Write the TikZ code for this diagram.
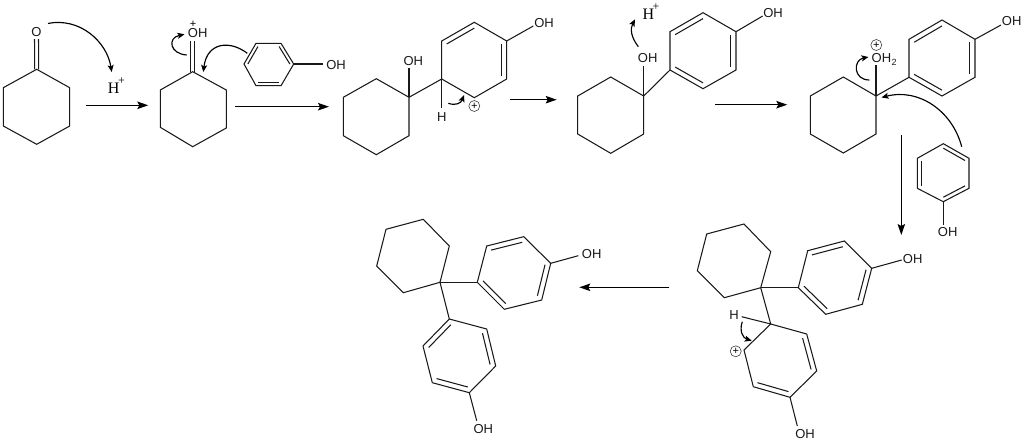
\documentclass[tikz,border=0pt]{standalone}
\usepackage{fontspec}
\setmainfont{Liberation Sans}
\newfontfamily\hfont{Liberation Serif}
\usetikzlibrary{arrows.meta,calc}
\tikzset{
  bond/.style={line width=1.05pt,draw=black!90,line join=miter},
  rxn/.style={line width=1.1pt,draw=black,-{Stealth[length=11pt,width=7.5pt,inset=2pt]}},
  curly/.style={line width=1.15pt,draw=black,-{Stealth[length=7pt,width=6pt,inset=1.5pt]}},
  lab/.style={inner sep=0pt,font=\fontsize{13}{13}\selectfont,text=black!90},
  hplus/.style={inner sep=0pt,font=\hfont\fontsize{16}{16}\selectfont},
  plus/.style={inner sep=0pt,font=\fontsize{11}{11}\selectfont},
  cplus/.style={circle,draw=black!80,line width=0.55pt,minimum size=11pt,inner sep=0pt,font=\fontsize{11}{11}\selectfont}
}
% ring: prefix, six vertices; draws closed hexagon and defines prefix1..6, prefixc
\newcommand\hexring[7]{%
  \coordinate (#11) at #2; \coordinate (#12) at #3; \coordinate (#13) at #4;
  \coordinate (#14) at #5; \coordinate (#15) at #6; \coordinate (#16) at #7;
  \coordinate (#1c) at ($(#11)!.5!(#14)$);
  \draw[bond] (#11)--(#12)--(#13)--(#14)--(#15)--(#16)--cycle;}
\newcommand\dbl[3]{\draw[bond] ($(#1#2)!.155!(#1c)$) -- ($(#1#3)!.155!(#1c)$);}
\begin{document}
\begin{tikzpicture}[x=1pt,y=-1pt]
\useasboundingbox (0,0) rectangle (1024,442);
\fill[white] (0,0) rectangle (1024,442);

% --- molecule 1
\hexring{a}{(36.7,69.3)}{(69.7,87.7)}{(69.7,126)}{(36.7,144.3)}{(3.3,126)}{(3.3,87.7)}
\node[lab] (aO) at (36.5,32) {O};
\coordinate (aOe) at (36.5,39);
\draw[bond] ($(a1)+(-2,0)$) -- ($(aOe)+(-2,0)$);
\draw[bond] ($(a1)+(2,0)$) -- ($(aOe)+(2,0)$);
\node[hplus] (hp1) at (113.7,88.7) {H};
\node[plus,font=\hfont\fontsize{12}{12}\selectfont] (hp1s) at (121.5,81.5) {+};
\coordinate (c1s) at (48,23.5); \coordinate (c1e) at (111.7,72);
\draw[curly] (c1s) .. controls (80,17) and (107,42) .. (c1e);
\coordinate (r1s) at (86,105.3); \coordinate (r1e) at (148.3,105.3);
\draw[rxn] (r1s) -- (r1e);

% --- molecule 2
\hexring{b}{(192.7,71.7)}{(226.3,90)}{(226.3,128)}{(192.7,146.7)}{(160.3,127.3)}{(160.3,90)}
\node[lab] (bOH) at (197.7,33.5) {OH};
\node[plus] (bp) at (193,24) {+};
\coordinate (bOe) at (192.7,41);
\draw[bond] ($(b1)+(-2,0)$) -- ($(bOe)+(-2,0)$);
\draw[bond] ($(b1)+(2,0)$) -- ($(bOe)+(2,0)$);
\coordinate (c2s) at (186.7,55); \coordinate (c2e) at (184.5,34.3);
\draw[curly] (c2s) .. controls (170,54) and (167,38) .. (c2e);
\hexring{p}{(244,64)}{(256,43.3)}{(281,43.3)}{(293.7,64)}{(281,85.7)}{(256,85.7)}
\dbl{p}{1}{2}\dbl{p}{3}{4}\dbl{p}{5}{6}
\node[lab] (pOH) at (336,65) {OH};
\coordinate (pOe) at (323,64);
\draw[bond] (p4) -- (pOe);
\coordinate (c3s) at (247.3,53.3); \coordinate (c3e) at (203.3,72);
\draw[curly] (c3s) .. controls (230,40) and (207,42) .. (c3e);
\coordinate (r2s) at (235,106.7); \coordinate (r2e) at (329,106.7);
\draw[rxn] (r2s) -- (r2e);

% --- molecule 3
\hexring{c}{(409,97.3)}{(376.3,78.7)}{(343.3,97.3)}{(343.3,135.7)}{(376.3,154.7)}{(409,135.7)}
\coordinate (cOe) at (409,67.7);
\draw[bond] (c1) -- (cOe);
\node[lab] (cOH) at (413.3,60.7) {OH};
\hexring{d}{(441.7,79)}{(441.7,41)}{(474.3,22.3)}{(506.7,41)}{(506.7,79)}{(474.3,97.7)}
\dbl{d}{2}{3}\dbl{d}{4}{5}
\draw[bond] (c1) -- (d1);
\coordinate (dOe) at (533.3,26);
\draw[bond] (d4) -- (dOe);
\node[lab] (dOH) at (544,22.7) {OH};
\coordinate (dHe) at (441.7,108.3);
\draw[bond] (d1) -- (dHe);
\node[lab] (dH) at (441.7,117.3) {H};
\node[cplus] (dp) at (474.3,106) {+};
\coordinate (c4s) at (448.3,103.3); \coordinate (c4e) at (464,95);
\draw[curly] (c4s) .. controls (456,106) and (461,103) .. (c4e);
\coordinate (r3s) at (510,99.7); \coordinate (r3e) at (556.7,99.7);
\draw[rxn] (r3s) -- (r3e);

% --- molecule 4
\hexring{e}{(643.7,96)}{(610.7,77)}{(577.7,96)}{(577.7,134)}{(610.7,153.3)}{(643.7,134)}
\coordinate (eOe) at (643.7,66);
\draw[bond] (e1) -- (eOe);
\node[lab] (eOH) at (647.7,58.3) {OH};
\hexring{f}{(670,70)}{(670,31.7)}{(703,12.7)}{(736,31.7)}{(736,70)}{(703,88.7)}
\dbl{f}{2}{3}\dbl{f}{4}{5}\dbl{f}{6}{1}
\draw[bond] (e1) -- (f1);
\coordinate (fOe) at (762.7,16);
\draw[bond] (f4) -- (fOe);
\node[lab] (fOH) at (773,13.3) {OH};
\node[hplus] (hp2) at (648.3,14) {H};
\node[plus,font=\hfont\fontsize{12}{12}\selectfont] (hp2s) at (656,6.7) {+};
\coordinate (c5s) at (638.3,46.7); \coordinate (c5e) at (635,19.3);
\draw[curly] (c5s) .. controls (631,37) and (630,29) .. (c5e);
\coordinate (r4s) at (715,104.7); \coordinate (r4e) at (787.3,104.7);
\draw[rxn] (r4s) -- (r4e);

% --- molecule 5
\hexring{g}{(876,96)}{(843.3,77)}{(810.3,96)}{(810.3,134)}{(843.3,153)}{(876,134)}
\coordinate (gOe) at (876,65);
\draw[bond] (g1) -- (gOe);
\node[lab,anchor=west] (gOH) at (871.5,59.5) {OH\kern0.3pt\raisebox{-2.5pt}{\fontsize{9}{9}\selectfont 2}};
\node[cplus] (gp) at (876.3,45) {+};
\hexring{h}{(909,77.3)}{(909,39.3)}{(942,20)}{(975,39.3)}{(975,77.3)}{(942,96)}
\dbl{h}{2}{3}\dbl{h}{4}{5}\dbl{h}{6}{1}
\draw[bond] (g1) -- (h1);
\coordinate (hOe) at (1001,25);
\draw[bond] (h4) -- (hOe);
\node[lab] (hOH) at (1011.7,20.7) {OH};
\coordinate (c6s) at (869.3,80); \coordinate (c6e) at (868.5,57);
\draw[curly] (c6s) .. controls (853,80) and (853,60) .. (c6e);
\hexring{q}{(943.3,143.7)}{(969,158.3)}{(969,188.3)}{(943.3,201.7)}{(917.3,188.3)}{(917.3,158.3)}
\dbl{q}{1}{2}\dbl{q}{3}{4}\dbl{q}{5}{6}
\coordinate (qOe) at (943.3,225);
\draw[bond] (q4) -- (qOe);
\node[lab] (qOH) at (947.7,232.3) {OH};
\coordinate (c7s) at (961.7,146.7); \coordinate (c7e) at (881.5,97.5);
\draw[curly] (c7s) .. controls (952,110) and (918,88) .. (c7e);
\coordinate (r5s) at (901.3,135); \coordinate (r5e) at (901.3,235);
\draw[rxn] (r5s) -- (r5e);

% --- molecule 6
\hexring{i}{(760.7,287.7)}{(770.7,251.7)}{(744,224)}{(706.7,234)}{(697.3,270.7)}{(724.3,297.7)}
\hexring{j}{(798.3,287.7)}{(807.7,250.7)}{(844.3,241)}{(871.7,268.3)}{(862.3,304.3)}{(825.7,314.3)}
\dbl{j}{2}{3}\dbl{j}{4}{5}\dbl{j}{6}{1}
\draw[bond] (i1) -- (j1);
\coordinate (jOe) at (901.7,260);
\draw[bond] (j4) -- (jOe);
\node[lab] (jOH) at (912.7,259.3) {OH};
\hexring{k}{(770.7,324)}{(806.7,334)}{(816.7,371)}{(790,397.3)}{(753.3,386.7)}{(744,350)}
\dbl{k}{2}{3}\dbl{k}{4}{5}
\draw[bond] (i1) -- (k1);
\coordinate (kOe) at (797.3,426);
\draw[bond] (k4) -- (kOe);
\node[lab] (kOH) at (805,434) {OH};
\coordinate (kHe) at (741.7,316.7);
\draw[bond] (k1) -- (kHe);
\node[lab] (kH) at (734,315) {H};
\node[cplus] (kp) at (735.7,351.3) {+};
\coordinate (c8s) at (742.3,321.7); \coordinate (c8e) at (751.7,340.7);
\draw[curly] (c8s) .. controls (739,331) and (743,338) .. (c8e);
\coordinate (r6s) at (669.3,287.3); \coordinate (r6e) at (579.3,287.3);
\draw[rxn] (r6s) -- (r6e);

% --- molecule 7
\hexring{l}{(440,282.3)}{(449.3,246)}{(423.3,219.3)}{(386,229.3)}{(376.7,266)}{(403.3,292.7)}
\hexring{m}{(477.3,282.3)}{(486.7,246)}{(523.7,236.7)}{(550.7,263.3)}{(541.7,300)}{(504.3,309.3)}
\dbl{m}{2}{3}\dbl{m}{4}{5}\dbl{m}{6}{1}
\draw[bond] (l1) -- (m1);
\coordinate (mOe) at (578.3,255.7);
\draw[bond] (m4) -- (mOe);
\node[lab] (mOH) at (591.7,254) {OH};
\hexring{n}{(449.3,319)}{(486.7,329)}{(495.7,366)}{(469.3,392.7)}{(432.3,382.7)}{(423,346)}
\dbl{n}{2}{3}\dbl{n}{4}{5}\dbl{n}{6}{1}
\draw[bond] (l1) -- (n1);
\coordinate (nOe) at (476.7,420.7);
\draw[bond] (n4) -- (nOe);
\node[lab] (nOH) at (483.3,429) {OH};
\end{tikzpicture}
\end{document}
